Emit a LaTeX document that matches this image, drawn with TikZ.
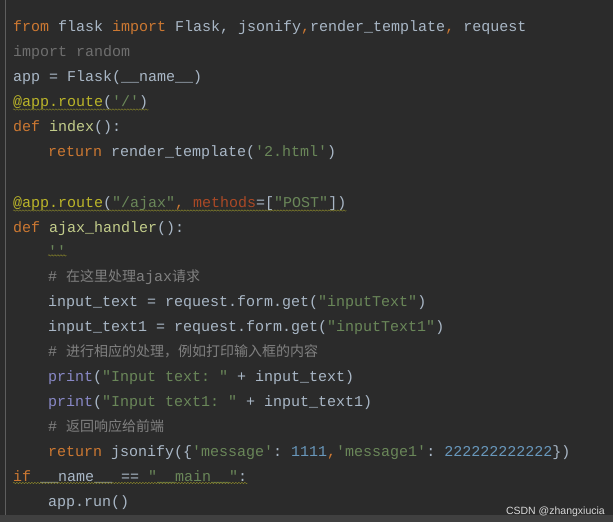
\documentclass[tikz,border=0pt]{standalone}
\usepackage{fontspec}
\setmonofont{Liberation Mono}
\newfontfamily\cjk{Noto Sans CJK SC}
\newfontfamily\wm{Liberation Sans}
\usetikzlibrary{decorations.pathmorphing}
\definecolor{bgc}{HTML}{2B2B2B}
\definecolor{kw}{HTML}{CC7832}
\definecolor{st}{HTML}{6A8759}
\definecolor{df}{HTML}{A9B7C6}
\definecolor{cm}{HTML}{808080}
\definecolor{dc}{HTML}{BBB529}
\definecolor{nm}{HTML}{6897BB}
\definecolor{bi}{HTML}{8888C6}
\definecolor{pa}{HTML}{AA4926}
\definecolor{un}{HTML}{6E6E6E}
\newcommand{\K}[1]{\textcolor{kw}{#1}}
\newcommand{\Sg}[1]{\textcolor{st}{#1}}
\newcommand{\C}[1]{\textcolor{cm}{#1}}
\newcommand{\Dc}[1]{\textcolor{dc}{#1}}
\newcommand{\N}[1]{\textcolor{nm}{#1}}
\newcommand{\B}[1]{\textcolor{bi}{#1}}
\newcommand{\Z}[1]{{\cjk\fontsize{14}{16}\selectfont #1}}
\begin{document}
\begin{tikzpicture}[x=1pt,y=-1pt,
  code/.style={anchor=base west,inner sep=0pt,text=df,font=\ttfamily\fontsize{15}{17}\selectfont},
  wave/.style={draw=dc!70!bgc,line width=0.4pt,decorate,decoration={snake,amplitude=0.7pt,segment length=3pt}}]
\fill[bgc] (0,0) rectangle (613,522);
\fill[bgc!90!white] (0,515) rectangle (613,522);
\draw[gray!60!bgc] (5,0) -- (5,515);
\node[code] (l1) at (13,31) {\K{from} flask \K{import} Flask, jsonify\K{,}render\_template\K{,} request};
\node[code] (l2) at (13,56) {\textcolor{un}{import random}};
\node[code] (l3) at (13,81) {app = Flask(\_\_name\_\_)};
\node[code] (l4) at (13,106) {\Dc{@app.route}(\Sg{'/'})};
\node[code] (l5) at (13,131) {\K{def} \textcolor{df!70!yellow}{index}():};
\node[code] (l6) at (48,156) {\K{return} render\_template(\Sg{'2.html'})};
\node[code] (l7) at (13,207) {\Dc{@app.route}(\Sg{"/ajax"}\K{,} \textcolor{pa}{methods}=[\Sg{"POST"}])};
\node[code] (l8) at (13,232) {\K{def} \textcolor{df!70!yellow}{ajax\_handler}():};
\node[code] (l9) at (48,256) {\Sg{''}};
\node[code] (l10) at (48,281) {\C{\# \Z{在这里处理}ajax\Z{请求}}};
\node[code] (l11) at (48,306) {input\_text = request.form.get(\Sg{"inputText"})};
\node[code] (l12) at (48,331) {input\_text1 = request.form.get(\Sg{"inputText1"})};
\node[code] (l13) at (48,356) {\C{\# \Z{进行相应的处理，例如打印输入框的内容}}};
\node[code] (l14) at (48,381) {\B{print}(\Sg{"Input text: "} + input\_text)};
\node[code] (l15) at (48,406) {\B{print}(\Sg{"Input text1: "} + input\_text1)};
\node[code] (l16) at (48,431) {\C{\# \Z{返回响应给前端}}};
\node[code] (l17) at (48,456) {\K{return} jsonify(\{\Sg{'message'}: \N{1111}\K{,}\Sg{'message1'}: \N{222222222222}\})};
\node[code] (l18) at (13,481) {\K{if} \_\_name\_\_ == \Sg{"\_\_main\_\_"}:};
\node[code] (l19) at (48,506) {app.run()};
\node[anchor=base east,inner sep=0pt,text=white!85!black,font=\wm\fontsize{10.5}{12}\selectfont] (wm) at (605,514) {CSDN @zhangxiucia};
\draw[wave] (l4.south west) -- (l4.south east);
\draw[wave] (l7.south west) -- (l7.south east);
\draw[wave] (l18.south west) -- (l18.south east);
\draw[wave] ([yshift=1pt]l9.south west) -- ([yshift=1pt]l9.south east);
\end{tikzpicture}
\end{document}
